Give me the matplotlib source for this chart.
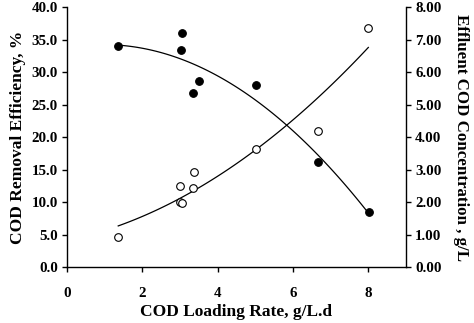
import matplotlib
matplotlib.use("Agg")
import matplotlib.pyplot as plt
import numpy as np

# Data
load_removal = [1.35, 3.04, 3.02, 3.34, 3.50, 5.02, 6.67, 8.01]
removal_eff = [34.0, 36.0, 33.4, 26.8, 28.6, 28.1, 16.1, 8.5]

load_effluent = [1.36, 3.01, 3.00, 3.04, 3.36, 3.34, 5.02, 6.67, 8.00]
effluent_cod = [0.91, 2.51, 2.01, 1.96, 2.93, 2.44, 3.62, 4.20, 7.35]

x_ticks = [0, 2, 4, 6, 8]
left_ticks = [0, 5, 10, 15, 20, 25, 30, 35, 40]
right_ticks = [0, 1, 2, 3, 4, 5, 6, 7, 8]

plt.rcParams['font.family'] = ['Liberation Serif', 'DejaVu Serif']
plt.rcParams['font.weight'] = 'bold'

fig = plt.figure(figsize=(4.74, 3.23), dpi=100)
ax = fig.add_axes([67/474, 1 - 267/323, (406-67)/474, (267-7.3)/323])
ax2 = ax.twinx()

# trendlines: 2nd-order polynomial fits of the data
xr = np.linspace(min(load_removal), max(load_removal), 100)
c1 = np.polyfit(load_removal, removal_eff, 2)
ax.plot(xr, np.polyval(c1, xr), color='black', lw=0.9)
ax.plot(load_removal, removal_eff, 'o', ms=5.5, mfc='black', mec='black', mew=0.8)

xe = np.linspace(min(load_effluent), max(load_effluent), 100)
c2 = np.polyfit(load_effluent, effluent_cod, 2)
ax2.plot(xe, np.polyval(c2, xe), color='black', lw=0.9)
ax2.plot(load_effluent, effluent_cod, 'o', ms=5.5, mfc='white', mec='black', mew=0.8)

ax.set_xlim(0, 9)
ax.set_ylim(0, 40)
ax2.set_ylim(0, 8)
ax.set_xticks(x_ticks)
ax.set_yticks(left_ticks)
ax2.set_yticks(right_ticks)
ax.set_xticklabels([str(v) for v in x_ticks])
ax.set_yticklabels([f"{v:.1f}" for v in left_ticks])
ax2.set_yticklabels([f"{v:.2f}" for v in right_ticks])

for a in (ax, ax2):
    for s in a.spines.values():
        s.set_linewidth(1.0)
    a.tick_params(direction='out', length=3.5, width=1.0, labelsize=10.8)
    a.spines['top'].set_visible(False)
ax.spines['right'].set_visible(False)
ax2.spines['left'].set_visible(False)
ax2.spines['bottom'].set_visible(False)
ax.tick_params(axis='x', pad=11)
ax.tick_params(axis='y', pad=3)
ax2.tick_params(axis='y', pad=3)

ax.set_xlabel("COD Loading Rate, g/L.d", fontsize=12.5, fontweight='bold', labelpad=3)
ax.set_ylabel("COD Removal Efficiency, %", fontsize=12.5, fontweight='bold', labelpad=4)
ax2.set_ylabel("Effluent COD Concentration , g/L", fontsize=12.2, fontweight='bold',
               rotation=270, labelpad=20)

fig.savefig("out.png", dpi=100)
